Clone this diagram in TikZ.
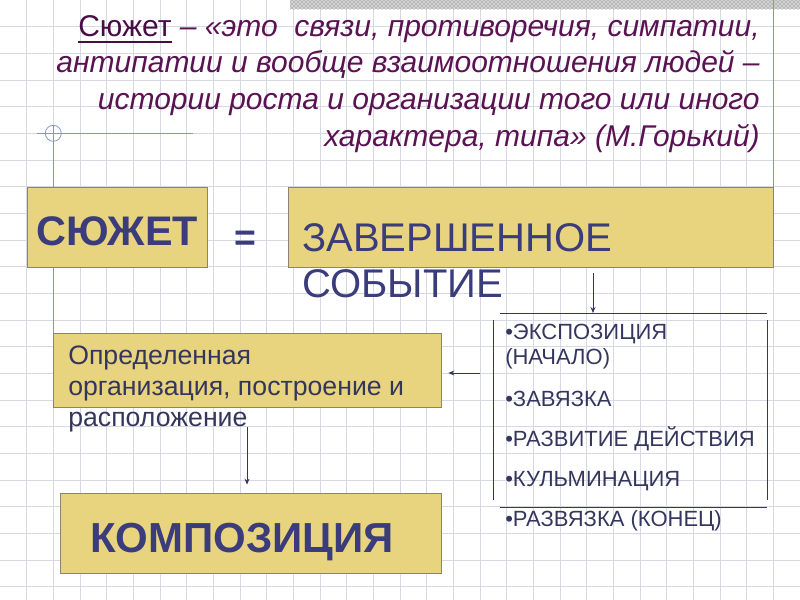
\documentclass[tikz,border=0pt]{standalone}
\usepackage{fontspec}
\setmainfont{Liberation Sans}
\usetikzlibrary{arrows.meta,patterns}

\newcommand{\plotul}[1]{\setbox0\hbox{#1}\rlap{\rule[-4.8pt]{\wd0}{1.4pt}}\box0}

\definecolor{paperline}{HTML}{D6D9E2}
\definecolor{decoline}{HTML}{8A96B4}
\definecolor{plotfill}{HTML}{E8D47E}
\definecolor{plotdraw}{HTML}{8A8470}
\definecolor{inkblue}{HTML}{3A3C7C}
\definecolor{inkplum}{HTML}{5A1252}
\definecolor{inkdark}{HTML}{4A0C46}
\definecolor{listink}{HTML}{34365E}

\begin{document}
\begin{tikzpicture}[x=0.75pt, y=-0.75pt, >=Stealth,
    box/.style={draw=plotdraw, fill=plotfill, line width=0.6pt, inner sep=0pt},
    arr/.style={->, >={Stealth[length=4.5pt, width=3.75pt]}, draw=listink, line width=0.6pt}]
    \useasboundingbox (0,0) rectangle (800,600);

    % squared paper
    \foreach \k in {1,...,29}
        \draw[paperline, line width=0.75pt] (\k*26.667,0) -- (\k*26.667,600);
    \foreach \k in {1,...,22}
        \draw[paperline, line width=0.75pt] (0,\k*26.667) -- (800,\k*26.667);

    % top band
    \fill[gray!35] (290,0) rectangle (800,9);
    \fill[pattern=crosshatch dots, pattern color=gray!85!black] (290,0) rectangle (800,9);

    % margin lines
    \draw[decoline, line width=0.75pt] (773,0) -- (773,187);
    \draw[decoline, line width=0.75pt] (37,133.3) -- (193,133.3);
    \draw[decoline, line width=0.75pt] (53.3,125) -- (53.3,333);
    \draw[decoline, line width=0.6pt] (53.3,133.3) circle [radius=8];

    % quotation
    \node[anchor=north east, inner sep=0pt, align=right, text=inkplum,
          font=\itshape\fontsize{22.5}{27.5}\selectfont] (quote) at (760,15)
        {{\upshape\color{inkdark}\plotul{Сюжет}} – «это~~связи, противоречия, симпатии,\\
         антипатии и вообще взаимоотношения людей –\\
         истории роста и организации того или иного\\
         характера, типа» (М.Горький)};

    % plot = event
    \node[box, minimum width=135pt, minimum height=60pt, text height=27pt, text depth=0pt,
          text=inkblue, font=\bfseries\fontsize{31}{31}\selectfont] (plot) at (117,227) {СЮЖЕТ};
    \node[text=inkblue, font=\bfseries\fontsize{28}{28}\selectfont] (eq) at (245,241) {=};
    \node[box, minimum width=363.75pt, minimum height=60pt] (event) at (530.5,227) {};
    \node[anchor=north west, inner sep=0pt, align=left, text=inkblue,
          font=\fontsize{30}{34.5}\selectfont] (eventtxt) at (302,223)
        {ЗАВЕРШЕННОЕ\\СОБЫТИЕ};

    % parts of the plot
    \coordinate (lstNW) at (493,320);
    \coordinate (lstSW) at (493,500);
    \coordinate (lstNE) at (767,320);
    \coordinate (lstSE) at (767,500);
    \coordinate (lstTop) at (500,313);
    \coordinate (lstIn) at (593,313);
    \coordinate (lstBot) at (500,507);
    \coordinate (lstOut) at (493,373);
    \draw[listink, line width=0.6pt] (lstTop) -- (lstTop -| lstNE);
    \draw[listink, line width=0.6pt] (lstNW) -- (lstSW);
    \draw[listink, line width=0.6pt] (lstNE) -- (lstSE);
    \draw[listink, line width=0.6pt] (lstBot) -- (lstBot -| lstSE);
    \node[anchor=north west, inner sep=0pt, align=left, text=listink,
          font=\fontsize{16.5}{18.75}\selectfont] (parts) at (505,324)
        {•ЭКСПОЗИЦИЯ\\
         (НАЧАЛО)\\[12.75pt]
         •ЗАВЯЗКА\\[11.25pt]
         •РАЗВИТИЕ ДЕЙСТВИЯ\\[11.25pt]
         •КУЛЬМИНАЦИЯ\\[11.5pt]
         •РАЗВЯЗКА (КОНЕЦ)};

    % layout -> composition
    \node[box, minimum width=291pt, minimum height=55.5pt] (layout) at (247,370) {};
    \node[anchor=north west, inner sep=0pt, align=left, text=listink,
          font=\fontsize{20}{23.25}\selectfont] (layouttxt) at (68,346)
        {Определенная\\организация, построение и\\расположение};
    \node[box, minimum height=60pt, text width=240.75pt, inner xsep=22.5pt,
          align=left, text height=28.5pt, text depth=0pt, text=inkblue,
          font=\bfseries\fontsize{31.5}{31.5}\selectfont] (compos) at (250.5,533) {КОМПОЗИЦИЯ};

    % arrows
    \draw[arr, shorten <=4.5pt] (event.south -| lstIn) -- (lstIn);
    \draw[arr, shorten <=9.75pt, shorten >=5.25pt] (lstOut) -- (lstOut -| layout.east);
    \draw[arr, shorten <=15pt, shorten >=6pt] (layout.south) -- (layout.south |- compos.north);
\end{tikzpicture}
\end{document}
